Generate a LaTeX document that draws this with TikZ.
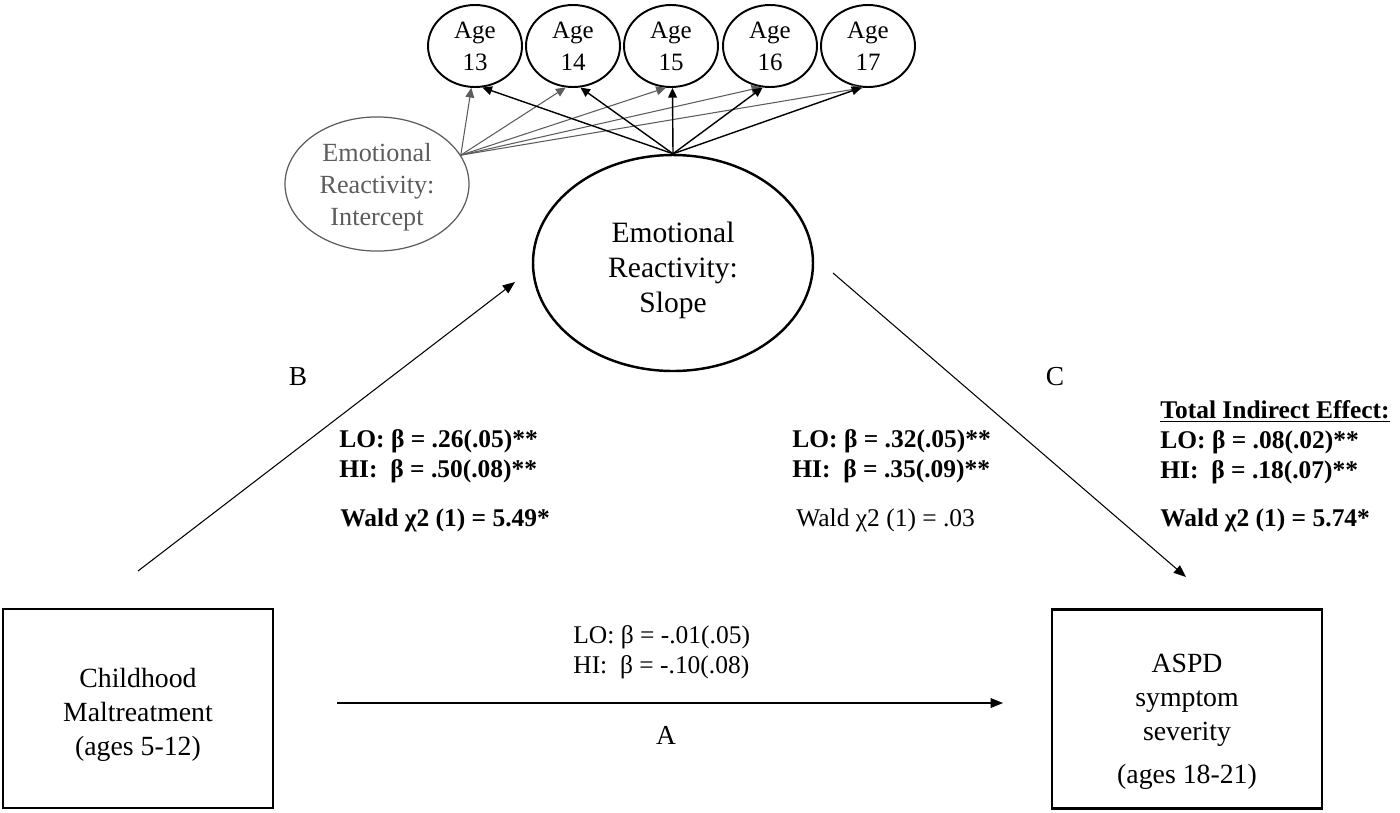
\documentclass[tikz,border=0pt]{standalone}
\usepackage{fontspec}
\setmainfont{Liberation Serif}
\usepackage{tikz}
\usetikzlibrary{shapes.geometric, arrows.meta, positioning}
\definecolor{intgray}{RGB}{92,92,92}

\begin{document}
\begin{tikzpicture}[
    agecirc/.style={ellipse, draw, line width=1.1pt, minimum width=1.88cm, minimum height=1.64cm, inner sep=0pt, align=center, font=\fontsize{14.2}{18.1}\selectfont},
    slopeell/.style={ellipse, draw, line width=1.4pt, minimum width=5.6cm, minimum height=4.32cm, inner sep=0pt, align=center, font=\fontsize{16.8}{19.8}\selectfont},
    intell/.style={ellipse, draw=intgray, text=intgray, line width=0.7pt, minimum width=3.68cm, minimum height=2.48cm, inner sep=0pt, align=center, font=\fontsize{14.9}{18.4}\selectfont},
    obs/.style={rectangle, draw, line width=1.2pt, minimum width=5.4cm, minimum height=3.98cm, align=center, font=\fontsize{15.8}{19.3}\selectfont},
    est/.style={anchor=west, align=left, inner sep=0pt, font=\bfseries\fontsize{14.5}{17}\selectfont},
    estreg/.style={est, font=\mdseries\fontsize{14.5}{17}\selectfont},
    pathlbl/.style={inner sep=0pt, font=\fontsize{15.6}{19}\selectfont},
    arr/.style={-{Triangle[length=7pt,width=5.5pt]}, line width=0.6pt},
    load/.style={-{Triangle[length=5.5pt,width=5pt]}, line width=0.8pt},
    iload/.style={load, draw=intgray, line width=0.6pt}
]
\useasboundingbox (0,0) rectangle (28,-16.24);

%% -- repeated measures (ages 13-17) --
\node[agecirc] (age13) at (9.50, -0.92) {Age\\13};
\node[agecirc] (age14) at (11.46,-0.92) {Age\\14};
\node[agecirc] (age15) at (13.42,-0.92) {Age\\15};
\node[agecirc] (age16) at (15.40,-0.92) {Age\\16};
\node[agecirc] (age17) at (17.36,-0.92) {Age\\17};

%% -- growth factors --
\node[intell]   (icpt)  at (7.54, -3.68) {\rule{0pt}{14pt}Emotional\\Reactivity:\\Intercept};
\node[slopeell] (slope) at (13.46,-5.26) {\rule{0pt}{20pt}Emotional\\Reactivity:\\Slope};

%% -- observed variables --
\node[obs] (cm)   at (2.76, -14.17) {\rule{0pt}{18pt}Childhood\\Maltreatment\\(ages 5-12)};
\node[obs] (aspd) at (23.74,-14.18) {\rule{0pt}{25pt}ASPD\\symptom\\severity\\[5pt](ages 18-21)};

%% -- free ends of the paths --
\coordinate (bstart) at (2.76,-11.42);
\coordinate (bend)   at (10.30,-5.64);
\coordinate (cstart) at (16.66,-5.46);
\coordinate (cend)   at (23.72,-11.54);
\coordinate (astart) at (6.74,-14.06);
\coordinate (aend)   at (20.06,-14.06);

%% -- intercept loadings (gray) --
\draw[iload] (icpt.19) -- (age13.-95);
\draw[iload] (icpt.19) -- (age14.-100);
\draw[iload] (icpt.19) -- (age15.-97);
\draw[iload] (icpt.19) -- (age16.-102);
\draw[iload] (icpt.19) -- (age17.-97);

%% -- slope loadings --
\draw[load] (slope.north) -- (age13.-80);
\draw[load] (slope.north) -- (age14.-80);
\draw[load] (slope.north) -- (age15.-88);
\draw[load] (slope.north) -- (age16.-100);
\draw[load] (slope.north) -- (age17.-99);

%% -- structural paths --
\draw[arr] (bstart) -- (bend);
\draw[arr] (cstart) -- (cend);
\draw[arr] (astart) -- (aend);

\node[pathlbl] (lblB) at (5.96,-7.53) {B};
\node[pathlbl] (lblC) at (21.10,-7.54) {C};
\node[pathlbl] (lblA) at (13.32,-14.71) {A};

%% -- estimates --
\node[est]    (estB)  at (6.78,-9.12)  {LO: β = .26(.05)**\\HI:~ β = .50(.08)**};
\node[est]    (waldB) at (6.80,-10.40) {Wald χ2 (1) = 5.49*};
\node[est]    (estC)  at (15.84,-9.12) {LO: β = .32(.05)**\\HI:~ β = .35(.09)**};
\node[estreg] (waldC) at (15.92,-10.40) {Wald χ2 (1) = .03};
\node[est]    (tot)   at (23.20,-8.84) {\underline{Total Indirect Effect:}\\LO: β = .08(.02)**\\HI:~ β = .18(.07)**};
\node[est]    (waldT) at (23.20,-10.40) {Wald χ2 (1) = 5.74*};
\node[estreg] (estA)  at (11.46,-13.04) {LO: β = -.01(.05)\\HI:~ β = -.10(.08)};

\end{tikzpicture}
\end{document}
